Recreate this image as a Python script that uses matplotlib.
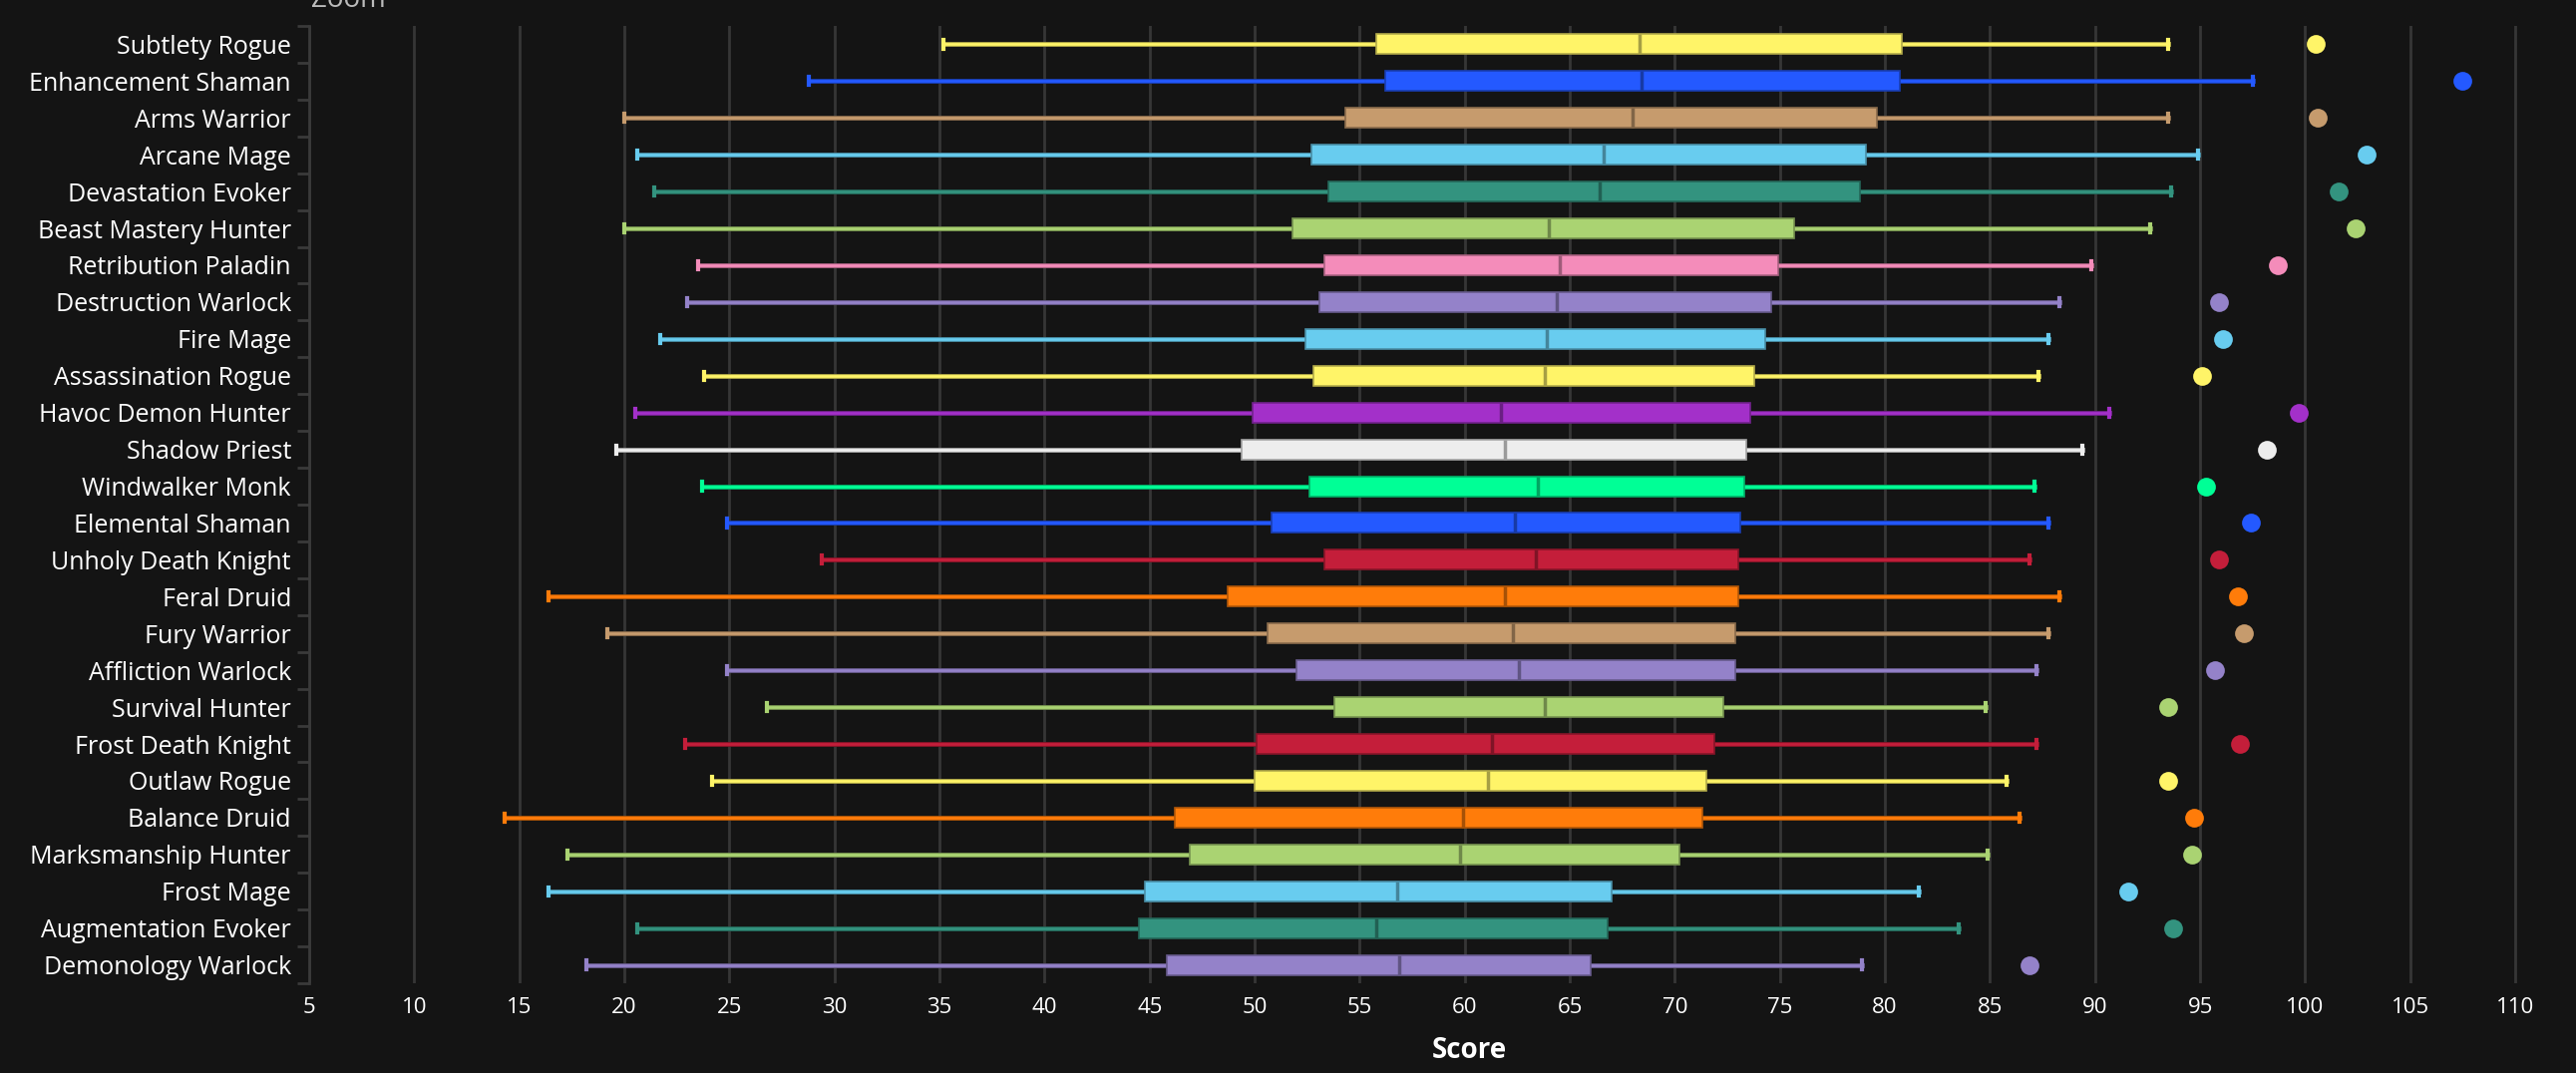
import matplotlib
matplotlib.use('Agg')
import matplotlib.pyplot as plt
import matplotlib.patheffects as pe
import numpy as np

specs = ['Subtlety Rogue', 'Enhancement Shaman', 'Arms Warrior', 'Arcane Mage',
         'Devastation Evoker', 'Beast Mastery Hunter', 'Retribution Paladin',
         'Destruction Warlock', 'Fire Mage', 'Assassination Rogue',
         'Havoc Demon Hunter', 'Shadow Priest', 'Windwalker Monk',
         'Elemental Shaman', 'Unholy Death Knight', 'Feral Druid', 'Fury Warrior',
         'Affliction Warlock', 'Survival Hunter', 'Frost Death Knight',
         'Outlaw Rogue', 'Balance Druid', 'Marksmanship Hunter', 'Frost Mage',
         'Augmentation Evoker', 'Demonology Warlock']

lows = [35.2, 28.8, 20.0, 20.6, 21.4, 20.0, 23.5, 23.0, 21.7, 23.8, 20.5, 19.6, 23.7,
        24.9, 29.4, 16.4, 19.2, 24.9, 26.8, 22.9, 24.2, 14.3, 17.3, 16.4, 20.6, 18.2]
q1s = [55.8, 56.2, 54.3, 52.7, 53.5, 51.8, 53.3, 53.1, 52.4, 52.8, 49.9, 49.4, 52.6,
       50.8, 53.3, 48.7, 50.6, 52.0, 53.8, 50.1, 50.0, 46.2, 46.9, 44.8, 44.5, 45.8]
medians = [68.3, 68.4, 68.0, 66.6, 66.4, 64.0, 64.5, 64.4, 63.9, 63.8, 61.7, 61.9, 63.5,
           62.4, 63.4, 61.9, 62.3, 62.6, 63.8, 61.3, 61.1, 59.9, 59.8, 56.8, 55.8, 56.9]
q3s = [80.8, 80.7, 79.6, 79.1, 78.8, 75.7, 74.9, 74.6, 74.3, 73.8, 73.6, 73.4, 73.3,
       73.1, 73.0, 73.0, 72.9, 72.9, 72.3, 71.9, 71.5, 71.3, 70.2, 67.0, 66.8, 66.0]
highs = [93.5, 97.5, 93.5, 94.9, 93.6, 92.6, 89.8, 88.3, 87.8, 87.3, 90.7, 89.4, 87.1,
         87.8, 86.9, 88.3, 87.8, 87.2, 84.8, 87.2, 85.8, 86.4, 84.9, 81.6, 83.5, 78.9]
outliers = [100.5, 107.5, 100.6, 102.9, 101.6, 102.4, 98.7, 95.9, 96.1, 95.1, 99.7, 98.2,
            95.3, 97.4, 95.9, 96.8, 97.1, 95.7, 93.5, 96.9, 93.5, 94.7, 94.6, 91.6, 93.7, 86.9]
colors = ['#FFF468', '#2459FF', '#C69B6D', '#68CCEF', '#33937F', '#AAD372', '#F48CBA',
          '#9482C9', '#68CCEF', '#FFF468', '#A330C9', '#EDEDED', '#00FF96', '#2459FF',
          '#C41E3A', '#FF7C0A', '#C69B6D', '#9482C9', '#AAD372', '#C41E3A', '#FFF468',
          '#FF7C0A', '#AAD372', '#68CCEF', '#33937F', '#9482C9']

BG = '#141414'
plt.rcParams['font.family'] = ['Liberation Sans Narrow', 'Open Sans', 'DejaVu Sans']


def darker(c, f=0.7):
    r, g, b = matplotlib.colors.to_rgb(c)
    return (r * f, g * f, b * f)


fig = plt.figure(figsize=(25.83, 10.76), dpi=100, facecolor=BG)
ax = fig.add_axes([310 / 2583, 1 - 986 / 1076, (2560 - 310) / 2583, 960 / 1076])
ax.set_facecolor(BG)

stats = []
for i, name in enumerate(specs):
    stats.append(dict(label=name, whislo=lows[i], q1=q1s[i], med=medians[i],
                      q3=q3s[i], whishi=highs[i], fliers=[outliers[i]]))

positions = np.arange(len(specs))
art = ax.bxp(stats, positions=positions, orientation='horizontal', widths=0.54,
             patch_artist=True, capwidths=0.22, showfliers=True)

for i, c in enumerate(colors):
    dk = darker(c)
    box = art['boxes'][i]
    box.set_facecolor(c)
    box.set_edgecolor(dk)
    box.set_linewidth(1.2)
    box.set_zorder(3)
    med = art['medians'][i]
    med.set_color(darker(c, 0.65))
    med.set_linewidth(2.5)
    med.set_zorder(4)
    for ln in art['whiskers'][2 * i:2 * i + 2]:
        ln.set_color(c)
        ln.set_linewidth(2)
        ln.set_path_effects([pe.Stroke(linewidth=3.5, foreground=dk), pe.Normal()])
    for ln in art['caps'][2 * i:2 * i + 2]:
        ln.set_color(c)
        ln.set_linewidth(3)
    fl = art['fliers'][i]
    fl.set_marker('o')
    fl.set_markersize(13.5)
    fl.set_markerfacecolor(c)
    fl.set_markeredgewidth(0)

ax.set_xlim(5, 111.8)
ax.set_ylim(len(specs) - 0.5, -0.5)

ax.set_yticks(positions, labels=specs)
ax.set_yticks(np.arange(-0.5, len(specs)), minor=True)
ax.tick_params(axis='y', which='major', length=0, pad=13, labelsize=18, labelcolor='white')
ax.tick_params(axis='y', which='minor', length=9, width=2, color='#3a3a3a')

ax.set_xticks(np.arange(5, 111, 5))
ax.tick_params(axis='x', length=0, pad=10, labelsize=16, labelcolor='white')
ax.grid(axis='x', color='#363636', linewidth=2)
ax.grid(axis='y', visible=False)
ax.set_axisbelow(True)

for s in ['top', 'right', 'bottom']:
    ax.spines[s].set_visible(False)
ax.spines['left'].set_color('#3a3a3a')
ax.spines['left'].set_linewidth(2)

ax.set_xlabel('Score', color='white', fontsize=20, fontweight='bold')
ax.xaxis.set_label_coords(0.517, -0.055)

# partly clipped text at the very top, as in the reference
fig.text(312 / 2583, 1 - 7 / 1076, 'Zoom', color='#bbbbbb', fontsize=20, va='baseline')

fig.savefig('out.png', dpi=100, facecolor=BG)
